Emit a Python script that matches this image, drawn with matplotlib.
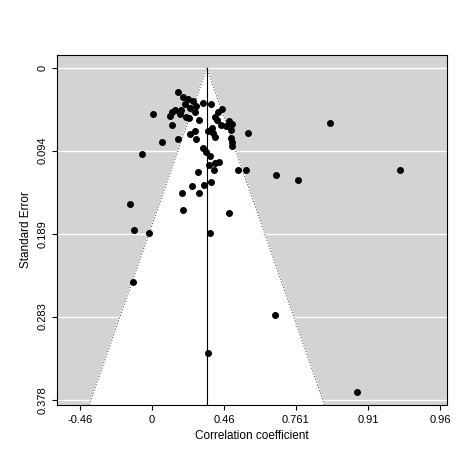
import matplotlib
matplotlib.use("Agg")
import matplotlib.pyplot as plt
import numpy as np
plt.rcParams['font.family'] = ['Liberation Sans', 'DejaVu Sans']

est = [0.166,0.198,0.230,0.262,0.211,0.281,0.243,0.185,0.326,0.147,0.128,0.179,0.115,0.217,0.236,0.275,0.300,0.377,0.403,0.422,0.447,0.415,0.441,0.492,0.473,0.511,0.383,0.390,0.403,0.358,0.275,0.281,0.243,0.326,0.345,0.371,0.364,0.403,0.396,0.428,0.511,0.505,0.505,0.511,0.613,0.550,0.601,0.492,0.332,0.294,0.300,0.377,0.256,0.166,0.128,0.006,0.064,-0.064,0.192,-0.141,-0.115,-0.019,0.371,0.792,0.933,1.137,1.585,-0.121,0.786,0.358,1.310,0.198]
se = [0.027,0.033,0.035,0.038,0.041,0.043,0.046,0.048,0.040,0.048,0.050,0.052,0.055,0.056,0.057,0.050,0.059,0.041,0.056,0.050,0.047,0.059,0.065,0.060,0.066,0.064,0.068,0.074,0.079,0.072,0.072,0.081,0.075,0.091,0.096,0.100,0.110,0.108,0.116,0.107,0.084,0.071,0.080,0.089,0.074,0.116,0.116,0.165,0.133,0.118,0.142,0.130,0.134,0.081,0.065,0.052,0.084,0.098,0.142,0.155,0.184,0.188,0.188,0.122,0.127,0.063,0.116,0.244,0.281,0.324,0.369,0.162]
center = 0.351
xtick_pos = [-0.46, 0, 0.46, 0.92, 1.38, 1.84]
xtick_labels = ["-0.46", "0", "0.46", "0.761", "0.91", "0.96"]
ytick_pos = [0, 0.094, 0.189, 0.283, 0.378]
ytick_labels = ["0", "0.094", "0.189", "0.283", "0.378"]

fig = plt.figure(figsize=(4.74, 4.74), dpi=100)
ax = fig.add_axes([0.120, 0.146, 0.823, 0.738])
ax.set_facecolor('#d3d3d3')
ymax = 0.3835
ax.set_xlim(-0.607, 1.885)
ax.set_ylim(ymax, -0.0148)
for y in ytick_pos:
    ax.axhline(y, color='white', lw=1, zorder=1)
poly_x = [center - 1.96*ymax, center, center + 1.96*ymax]
poly_y = [ymax, 0, ymax]
ax.fill(poly_x, poly_y, color='white', zorder=2)
ax.plot(poly_x, poly_y, color='#555555', lw=0.8, ls=':', zorder=3)
ax.plot([center, center], [0, ymax], color='black', lw=0.8, zorder=3)
ax.scatter(est, se, s=16, color='black', zorder=4)
ax.set_xticks(xtick_pos)
ax.set_xticklabels(xtick_labels, fontsize=8)
ax.set_yticks(ytick_pos)
ax.set_yticklabels(ytick_labels, fontsize=8, rotation=90, va='center')
ax.set_xlabel("Correlation coefficient", fontsize=8.5)
ax.set_ylabel("Standard Error", fontsize=8.5)
fig.savefig("out.png", dpi=100)
